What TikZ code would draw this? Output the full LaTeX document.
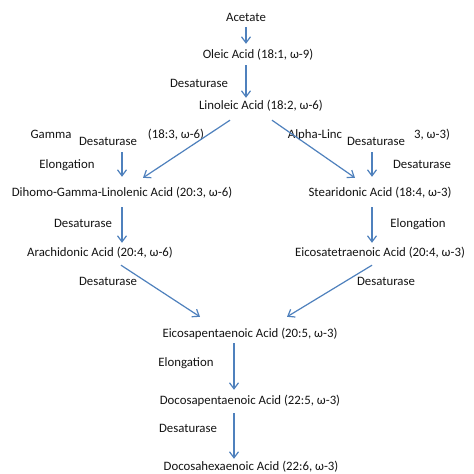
\documentclass[tikz,border=0pt]{standalone}
\usepackage{fontspec}
\setmainfont{Carlito}
\usetikzlibrary{arrows.meta}
\definecolor{arrblue}{HTML}{4F81BD}
\definecolor{txt}{HTML}{141414}
\begin{document}
\begin{tikzpicture}[x=1pt,y=1pt,
  lbl/.style={inner sep=0pt,text height=9pt,text depth=3pt,font=\fontsize{12.8}{15}\selectfont,text=txt},
  arr/.style={draw=arrblue,line width=1.2pt,-{Straight Barb[length=6pt,width=9pt]}}]
\useasboundingbox[fill=white] (0,0) rectangle (474,-474);
% compounds
\node[lbl] (acetate) at (246,-18) {Acetate};
\node[lbl] (oleic) at (258,-55) {Oleic Acid (18:1, ω-9)};
\node[lbl] (linoleic) at (261,-106) {Linoleic Acid (18:2, ω-6)};
\node[lbl] (gammaA) at (51,-135) {Gamma};
\node[lbl] (gammaB) at (176,-135) {(18:3, ω-6)};
\node[lbl] (alphaA) at (315,-135) {Alpha-Linc};
\node[lbl] (alphaB) at (432,-135) {3, ω-3)};
\node[lbl] (dihomo) at (122,-193) {Dihomo-Gamma-Linolenic Acid (20:3, ω-6)};
\node[lbl] (stearidonic) at (380,-193) {Stearidonic Acid (18:4, ω-3)};
\node[lbl] (arachidonic) at (100,-253) {Arachidonic Acid (20:4, ω-6)};
\node[lbl] (eicosatetra) at (380,-253) {Eicosatetraenoic Acid (20:4, ω-3)};
\node[lbl] (epa) at (250,-334) {Eicosapentaenoic Acid (20:5, ω-3)};
\node[lbl] (dpa) at (250,-401) {Docosapentaenoic Acid (22:5, ω-3)};
\node[lbl] (dha) at (251,-467) {Docosahexaenoic Acid (22:6, ω-3)};
% enzyme labels
\node[lbl] (d1) at (199,-84) {Desaturase};
\node[lbl] (desL) at (108,-142) {Desaturase};
\node[lbl] (desR) at (376,-142) {Desaturase};
\node[lbl] (elL) at (67,-165) {Elongation};
\node[lbl] (desR2) at (422,-165) {Desaturase};
\node[lbl] (d2) at (83,-224) {Desaturase};
\node[lbl] (elR) at (418,-224) {Elongation};
\node[lbl] (d3) at (108,-282) {Desaturase};
\node[lbl] (d4) at (386,-282) {Desaturase};
\node[lbl] (el3) at (186,-363) {Elongation};
\node[lbl] (d5) at (188,-429) {Desaturase};
% connectors
\draw[arr] ([yshift=-3pt]acetate.south) -- ([yshift=5pt]oleic.north -| acetate.south);
\draw[arr] ([yshift=-4pt]oleic.south -| acetate.south) -- ([yshift=2pt]linoleic.north -| acetate.south);
\draw[arr] ([shift={(-31pt,-8pt)}]linoleic.south) -- ([shift={(21pt,9pt)}]dihomo.north);
\draw[arr] ([shift={(11pt,-8pt)}]linoleic.south) -- ([shift={(-25pt,9pt)}]stearidonic.north);
\draw[arr] ([yshift=-4pt]desL.south -| dihomo.north) -- ([yshift=10pt]dihomo.north);
\draw[arr] ([shift={(-8pt,-4pt)}]desR.south -| stearidonic.north) -- ([shift={(-8pt,10pt)}]stearidonic.north);
\draw[arr] ([yshift=-8pt]dihomo.south) -- ([yshift=4pt]arachidonic.north -| dihomo.south);
\draw[arr] ([shift={(-8pt,-8pt)}]stearidonic.south) -- ([shift={(-8pt,4pt)}]eicosatetra.north -| stearidonic.south);
\draw[arr] ([shift={(21pt,-6pt)}]arachidonic.south) -- ([shift={(-50pt,11pt)}]epa.north);
\draw[arr] ([shift={(-8pt,-6pt)}]eicosatetra.south) -- ([shift={(37pt,11pt)}]epa.north);
\draw[arr] ([shift={(-16pt,-3pt)}]epa.south) -- ([shift={(-16pt,5pt)}]dpa.north);
\draw[arr] ([shift={(-16pt,-6pt)}]dpa.south) -- ([shift={(-17pt,2pt)}]dha.north);
\end{tikzpicture}
\end{document}
